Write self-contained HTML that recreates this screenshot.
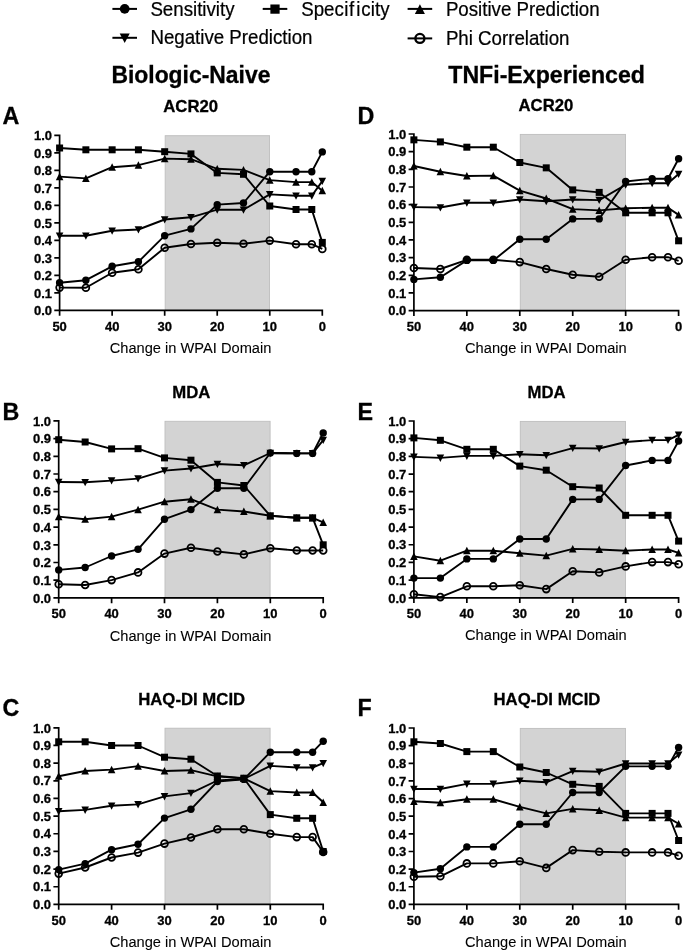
<!DOCTYPE html>
<html lang="en"><head><meta charset="utf-8"><title>Figure</title>
<style>html,body{margin:0;padding:0;background:#fff}svg{display:block}text{font-family:"Liberation Sans",Arial,Helvetica,sans-serif;fill:#000;stroke:#000;stroke-width:0.22px}.b{font-weight:bold;stroke:#000;stroke-width:0.3px}</style></head><body>
<svg width="685" height="952" viewBox="0 0 685 952">
<rect width="685" height="952" fill="#fff"/>
<defs><filter id="soft" filterUnits="userSpaceOnUse" x="0" y="0" width="685" height="952"><feGaussianBlur stdDeviation="0.38"/></filter></defs>
<g filter="url(#soft)">
<g><line x1="112.4" y1="8.9" x2="137" y2="8.9" stroke="#000" stroke-width="2"/><circle cx="124.7" cy="8.9" r="4.88"/><text transform="translate(150.4 15.5) scale(1 1.04)" font-size="18.7">Sensitivity</text></g>
<g><line x1="262.7" y1="8.9" x2="287.3" y2="8.9" stroke="#000" stroke-width="2"/><rect x="270.38" y="4.48" width="9.24" height="9.24"/><text dx="0 0 0 0 0.4 0.6 2.2 0.7 0.3" transform="translate(301.2 15.5) scale(1 1.04)" font-size="18.7">Specificity</text></g>
<g><line x1="407.6" y1="8.9" x2="432.2" y2="8.9" stroke="#000" stroke-width="2"/><path d="M419.9 4.15L424.92 14.05L414.88 14.05Z"/><text transform="translate(445.9 15.5) scale(1 1.04)" font-size="18.7">Positive Prediction</text></g>
<g><line x1="112.4" y1="37.8" x2="137" y2="37.8" stroke="#000" stroke-width="2"/><path d="M124.7 43.08L129.72 33.44L119.68 33.44Z"/><text transform="translate(150.4 44) scale(1 1.04)" font-size="18.7">Negative Prediction</text></g>
<g><line x1="407.6" y1="38.4" x2="432.2" y2="38.4" stroke="#000" stroke-width="2"/><circle cx="419.9" cy="38.4" r="4.49" fill="none" stroke="#000" stroke-width="2.38"/><text transform="translate(445.9 44.8) scale(1 1.04)" font-size="18.7">Phi Correlation</text></g>
<text transform="translate(190.9 82.9) scale(1 1.03)" font-size="22.9" text-anchor="middle" class="b">Biologic-Naive</text>
<text transform="translate(546.6 82.9) scale(1 1.03)" font-size="23.15" text-anchor="middle" class="b">TNFi-Experienced</text>
<g>
<rect x="165.18" y="135.7" width="104.38" height="174.7" fill="#d3d3d3" stroke="#bebebe" stroke-width="0.9"/>
<text transform="translate(2.4 124.25) scale(1 1)" font-size="23.3" class="b">A</text>
<text transform="translate(190.65 112.1) scale(1 1.03)" font-size="16.75" text-anchor="middle" class="b">ACR20</text>
<path d="M59.6 134.45V315.7M54.3 310.4H323.15M54.3 292.89H59.6M54.3 275.38H59.6M54.3 257.87H59.6M54.3 240.36H59.6M54.3 222.85H59.6M54.3 205.34H59.6M54.3 187.83H59.6M54.3 170.32H59.6M54.3 152.81H59.6M54.3 135.3H59.6M112.14 310.4V315.7M164.68 310.4V315.7M217.22 310.4V315.7M269.76 310.4V315.7M322.3 310.4V315.7" fill="none" stroke="#000" stroke-width="1.7"/>
<text transform="translate(52 315.1) scale(1 1.03)" font-size="13" text-anchor="end" class="b">0.0</text>
<text transform="translate(52 297.59) scale(1 1.03)" font-size="13" text-anchor="end" class="b">0.1</text>
<text transform="translate(52 280.08) scale(1 1.03)" font-size="13" text-anchor="end" class="b">0.2</text>
<text transform="translate(52 262.57) scale(1 1.03)" font-size="13" text-anchor="end" class="b">0.3</text>
<text transform="translate(52 245.06) scale(1 1.03)" font-size="13" text-anchor="end" class="b">0.4</text>
<text transform="translate(52 227.55) scale(1 1.03)" font-size="13" text-anchor="end" class="b">0.5</text>
<text transform="translate(52 210.04) scale(1 1.03)" font-size="13" text-anchor="end" class="b">0.6</text>
<text transform="translate(52 192.53) scale(1 1.03)" font-size="13" text-anchor="end" class="b">0.7</text>
<text transform="translate(52 175.02) scale(1 1.03)" font-size="13" text-anchor="end" class="b">0.8</text>
<text transform="translate(52 157.51) scale(1 1.03)" font-size="13" text-anchor="end" class="b">0.9</text>
<text transform="translate(52 140) scale(1 1.03)" font-size="13" text-anchor="end" class="b">1.0</text>
<text transform="translate(59.6 330.5) scale(1 1.03)" font-size="13" text-anchor="middle" class="b">50</text>
<text transform="translate(112.14 330.5) scale(1 1.03)" font-size="13" text-anchor="middle" class="b">40</text>
<text transform="translate(164.68 330.5) scale(1 1.03)" font-size="13" text-anchor="middle" class="b">30</text>
<text transform="translate(217.22 330.5) scale(1 1.03)" font-size="13" text-anchor="middle" class="b">20</text>
<text transform="translate(269.76 330.5) scale(1 1.03)" font-size="13" text-anchor="middle" class="b">10</text>
<text transform="translate(322.3 330.5) scale(1 1.03)" font-size="13" text-anchor="middle" class="b">0</text>
<text style="stroke-width:0.08px" transform="translate(190.55 353) scale(1 1)" font-size="14.65" text-anchor="middle">Change in WPAI Domain</text>
<polyline points="59.6,282.7 85.87,280.2 112.14,266.3 138.41,261.8 164.68,235.7 190.95,228.9 217.22,204.6 243.49,203 269.76,171.7 296.03,171.7 311.79,171.7 322.3,151.9" fill="none" stroke="#000" stroke-width="1.9" stroke-linejoin="round"/>
<circle cx="59.6" cy="282.7" r="3.7"/><circle cx="85.87" cy="280.2" r="3.7"/><circle cx="112.14" cy="266.3" r="3.7"/><circle cx="138.41" cy="261.8" r="3.7"/><circle cx="164.68" cy="235.7" r="3.7"/><circle cx="190.95" cy="228.9" r="3.7"/><circle cx="217.22" cy="204.6" r="3.7"/><circle cx="243.49" cy="203" r="3.7"/><circle cx="269.76" cy="171.7" r="3.7"/><circle cx="296.03" cy="171.7" r="3.7"/><circle cx="311.79" cy="171.7" r="3.7"/><circle cx="322.3" cy="151.9" r="3.7"/>
<polyline points="59.6,148 85.87,149.8 112.14,149.8 138.41,149.8 164.68,151.7 190.95,153.9 217.22,172.9 243.49,174.3 269.76,206 296.03,209.5 311.79,209.5 322.3,242.4" fill="none" stroke="#000" stroke-width="1.9" stroke-linejoin="round"/>
<rect x="56.1" y="144.5" width="7" height="7"/><rect x="82.37" y="146.3" width="7" height="7"/><rect x="108.64" y="146.3" width="7" height="7"/><rect x="134.91" y="146.3" width="7" height="7"/><rect x="161.18" y="148.2" width="7" height="7"/><rect x="187.45" y="150.4" width="7" height="7"/><rect x="213.72" y="169.4" width="7" height="7"/><rect x="239.99" y="170.8" width="7" height="7"/><rect x="266.26" y="202.5" width="7" height="7"/><rect x="292.53" y="206" width="7" height="7"/><rect x="308.29" y="206" width="7" height="7"/><rect x="318.8" y="238.9" width="7" height="7"/>
<polyline points="59.6,176.6 85.87,178.4 112.14,167.2 138.41,165.2 164.68,158.6 190.95,159.2 217.22,168.8 243.49,169.9 269.76,180.1 296.03,182.1 311.79,182.1 322.3,190.7" fill="none" stroke="#000" stroke-width="1.9" stroke-linejoin="round"/>
<path d="M59.6 172.7L63.4 180.2L55.8 180.2Z"/><path d="M85.87 174.5L89.67 182L82.07 182Z"/><path d="M112.14 163.3L115.94 170.8L108.34 170.8Z"/><path d="M138.41 161.3L142.21 168.8L134.61 168.8Z"/><path d="M164.68 154.7L168.48 162.2L160.88 162.2Z"/><path d="M190.95 155.3L194.75 162.8L187.15 162.8Z"/><path d="M217.22 164.9L221.02 172.4L213.42 172.4Z"/><path d="M243.49 166L247.29 173.5L239.69 173.5Z"/><path d="M269.76 176.2L273.56 183.7L265.96 183.7Z"/><path d="M296.03 178.2L299.83 185.7L292.23 185.7Z"/><path d="M311.79 178.2L315.59 185.7L307.99 185.7Z"/><path d="M322.3 186.8L326.1 194.3L318.5 194.3Z"/>
<polyline points="59.6,235.7 85.87,235.7 112.14,230.8 138.41,229.5 164.68,219.5 190.95,217.3 217.22,209.7 243.49,209.7 269.76,194.4 296.03,195.8 311.79,195.8 322.3,181.1" fill="none" stroke="#000" stroke-width="1.9" stroke-linejoin="round"/>
<path d="M59.6 239.7L63.4 232.4L55.8 232.4Z"/><path d="M85.87 239.7L89.67 232.4L82.07 232.4Z"/><path d="M112.14 234.8L115.94 227.5L108.34 227.5Z"/><path d="M138.41 233.5L142.21 226.2L134.61 226.2Z"/><path d="M164.68 223.5L168.48 216.2L160.88 216.2Z"/><path d="M190.95 221.3L194.75 214L187.15 214Z"/><path d="M217.22 213.7L221.02 206.4L213.42 206.4Z"/><path d="M243.49 213.7L247.29 206.4L239.69 206.4Z"/><path d="M269.76 198.4L273.56 191.1L265.96 191.1Z"/><path d="M296.03 199.8L299.83 192.5L292.23 192.5Z"/><path d="M311.79 199.8L315.59 192.5L307.99 192.5Z"/><path d="M322.3 185.1L326.1 177.8L318.5 177.8Z"/>
<polyline points="59.6,287.6 85.87,287.8 112.14,272.7 138.41,269.2 164.68,247.7 190.95,244 217.22,242.8 243.49,243.8 269.76,240.6 296.03,244.2 311.79,244.2 322.3,248.9" fill="none" stroke="#000" stroke-width="1.9" stroke-linejoin="round"/>
<circle cx="59.6" cy="287.6" r="3.4" fill="none" stroke="#000" stroke-width="1.8"/><circle cx="85.87" cy="287.8" r="3.4" fill="none" stroke="#000" stroke-width="1.8"/><circle cx="112.14" cy="272.7" r="3.4" fill="none" stroke="#000" stroke-width="1.8"/><circle cx="138.41" cy="269.2" r="3.4" fill="none" stroke="#000" stroke-width="1.8"/><circle cx="164.68" cy="247.7" r="3.4" fill="none" stroke="#000" stroke-width="1.8"/><circle cx="190.95" cy="244" r="3.4" fill="none" stroke="#000" stroke-width="1.8"/><circle cx="217.22" cy="242.8" r="3.4" fill="none" stroke="#000" stroke-width="1.8"/><circle cx="243.49" cy="243.8" r="3.4" fill="none" stroke="#000" stroke-width="1.8"/><circle cx="269.76" cy="240.6" r="3.4" fill="none" stroke="#000" stroke-width="1.8"/><circle cx="296.03" cy="244.2" r="3.4" fill="none" stroke="#000" stroke-width="1.8"/><circle cx="311.79" cy="244.2" r="3.4" fill="none" stroke="#000" stroke-width="1.8"/><circle cx="322.3" cy="248.9" r="3.4" fill="none" stroke="#000" stroke-width="1.8"/>
</g>
<g>
<rect x="165" y="421.3" width="105.1" height="176.6" fill="#d3d3d3" stroke="#bebebe" stroke-width="0.9"/>
<text transform="translate(2.4 420.05) scale(1 1)" font-size="23.3" class="b">B</text>
<text transform="translate(191.35 397.7) scale(1 1.03)" font-size="16.75" text-anchor="middle" class="b">MDA</text>
<path d="M58.7 420.05V603.2M53.4 597.9H324.05M53.4 580.2H58.7M53.4 562.5H58.7M53.4 544.8H58.7M53.4 527.1H58.7M53.4 509.4H58.7M53.4 491.7H58.7M53.4 474H58.7M53.4 456.3H58.7M53.4 438.6H58.7M53.4 420.9H58.7M111.6 597.9V603.2M164.5 597.9V603.2M217.4 597.9V603.2M270.3 597.9V603.2M323.2 597.9V603.2" fill="none" stroke="#000" stroke-width="1.7"/>
<text transform="translate(51.1 602.6) scale(1 1.03)" font-size="13" text-anchor="end" class="b">0.0</text>
<text transform="translate(51.1 584.9) scale(1 1.03)" font-size="13" text-anchor="end" class="b">0.1</text>
<text transform="translate(51.1 567.2) scale(1 1.03)" font-size="13" text-anchor="end" class="b">0.2</text>
<text transform="translate(51.1 549.5) scale(1 1.03)" font-size="13" text-anchor="end" class="b">0.3</text>
<text transform="translate(51.1 531.8) scale(1 1.03)" font-size="13" text-anchor="end" class="b">0.4</text>
<text transform="translate(51.1 514.1) scale(1 1.03)" font-size="13" text-anchor="end" class="b">0.5</text>
<text transform="translate(51.1 496.4) scale(1 1.03)" font-size="13" text-anchor="end" class="b">0.6</text>
<text transform="translate(51.1 478.7) scale(1 1.03)" font-size="13" text-anchor="end" class="b">0.7</text>
<text transform="translate(51.1 461) scale(1 1.03)" font-size="13" text-anchor="end" class="b">0.8</text>
<text transform="translate(51.1 443.3) scale(1 1.03)" font-size="13" text-anchor="end" class="b">0.9</text>
<text transform="translate(51.1 425.6) scale(1 1.03)" font-size="13" text-anchor="end" class="b">1.0</text>
<text transform="translate(58.7 618) scale(1 1.03)" font-size="13" text-anchor="middle" class="b">50</text>
<text transform="translate(111.6 618) scale(1 1.03)" font-size="13" text-anchor="middle" class="b">40</text>
<text transform="translate(164.5 618) scale(1 1.03)" font-size="13" text-anchor="middle" class="b">30</text>
<text transform="translate(217.4 618) scale(1 1.03)" font-size="13" text-anchor="middle" class="b">20</text>
<text transform="translate(270.3 618) scale(1 1.03)" font-size="13" text-anchor="middle" class="b">10</text>
<text transform="translate(323.2 618) scale(1 1.03)" font-size="13" text-anchor="middle" class="b">0</text>
<text style="stroke-width:0.08px" transform="translate(190.55 640.5) scale(1 1)" font-size="14.65" text-anchor="middle">Change in WPAI Domain</text>
<polyline points="58.7,569.9 85.15,567.5 111.6,556 138.05,549.3 164.5,519.2 190.95,509.6 217.4,488.2 243.85,488.2 270.3,453 296.75,453.4 312.62,453.4 323.2,433" fill="none" stroke="#000" stroke-width="1.9" stroke-linejoin="round"/>
<circle cx="58.7" cy="569.9" r="3.7"/><circle cx="85.15" cy="567.5" r="3.7"/><circle cx="111.6" cy="556" r="3.7"/><circle cx="138.05" cy="549.3" r="3.7"/><circle cx="164.5" cy="519.2" r="3.7"/><circle cx="190.95" cy="509.6" r="3.7"/><circle cx="217.4" cy="488.2" r="3.7"/><circle cx="243.85" cy="488.2" r="3.7"/><circle cx="270.3" cy="453" r="3.7"/><circle cx="296.75" cy="453.4" r="3.7"/><circle cx="312.62" cy="453.4" r="3.7"/><circle cx="323.2" cy="433" r="3.7"/>
<polyline points="58.7,439.7 85.15,442 111.6,448.9 138.05,448.7 164.5,457.9 190.95,460.2 217.4,482.4 243.85,485.5 270.3,515.8 296.75,517.8 312.62,517.8 323.2,544.8" fill="none" stroke="#000" stroke-width="1.9" stroke-linejoin="round"/>
<rect x="55.2" y="436.2" width="7" height="7"/><rect x="81.65" y="438.5" width="7" height="7"/><rect x="108.1" y="445.4" width="7" height="7"/><rect x="134.55" y="445.2" width="7" height="7"/><rect x="161" y="454.4" width="7" height="7"/><rect x="187.45" y="456.7" width="7" height="7"/><rect x="213.9" y="478.9" width="7" height="7"/><rect x="240.35" y="482" width="7" height="7"/><rect x="266.8" y="512.3" width="7" height="7"/><rect x="293.25" y="514.3" width="7" height="7"/><rect x="309.12" y="514.3" width="7" height="7"/><rect x="319.7" y="541.3" width="7" height="7"/>
<polyline points="58.7,516.6 85.15,519.2 111.6,516.6 138.05,509.6 164.5,501.7 190.95,499.2 217.4,509.6 243.85,511.5 270.3,515.8 296.75,517.8 312.62,517.8 323.2,522.3" fill="none" stroke="#000" stroke-width="1.9" stroke-linejoin="round"/>
<path d="M58.7 512.7L62.5 520.2L54.9 520.2Z"/><path d="M85.15 515.3L88.95 522.8L81.35 522.8Z"/><path d="M111.6 512.7L115.4 520.2L107.8 520.2Z"/><path d="M138.05 505.7L141.85 513.2L134.25 513.2Z"/><path d="M164.5 497.8L168.3 505.3L160.7 505.3Z"/><path d="M190.95 495.3L194.75 502.8L187.15 502.8Z"/><path d="M217.4 505.7L221.2 513.2L213.6 513.2Z"/><path d="M243.85 507.6L247.65 515.1L240.05 515.1Z"/><path d="M270.3 511.9L274.1 519.4L266.5 519.4Z"/><path d="M296.75 513.9L300.55 521.4L292.95 521.4Z"/><path d="M312.62 513.9L316.42 521.4L308.82 521.4Z"/><path d="M323.2 518.4L327 525.9L319.4 525.9Z"/>
<polyline points="58.7,482 85.15,482.2 111.6,480.6 138.05,478.6 164.5,470.6 190.95,468.5 217.4,464 243.85,465.3 270.3,453 296.75,453.4 312.62,453.4 323.2,440.1" fill="none" stroke="#000" stroke-width="1.9" stroke-linejoin="round"/>
<path d="M58.7 486L62.5 478.7L54.9 478.7Z"/><path d="M85.15 486.2L88.95 478.9L81.35 478.9Z"/><path d="M111.6 484.6L115.4 477.3L107.8 477.3Z"/><path d="M138.05 482.6L141.85 475.3L134.25 475.3Z"/><path d="M164.5 474.6L168.3 467.3L160.7 467.3Z"/><path d="M190.95 472.5L194.75 465.2L187.15 465.2Z"/><path d="M217.4 468L221.2 460.7L213.6 460.7Z"/><path d="M243.85 469.3L247.65 462L240.05 462Z"/><path d="M270.3 457L274.1 449.7L266.5 449.7Z"/><path d="M296.75 457.4L300.55 450.1L292.95 450.1Z"/><path d="M312.62 457.4L316.42 450.1L308.82 450.1Z"/><path d="M323.2 444.1L327 436.8L319.4 436.8Z"/>
<polyline points="58.7,584.2 85.15,585 111.6,580.1 138.05,572.4 164.5,553.6 190.95,547.8 217.4,551.5 243.85,554.4 270.3,548.3 296.75,550.5 312.62,550.5 323.2,550.5" fill="none" stroke="#000" stroke-width="1.9" stroke-linejoin="round"/>
<circle cx="58.7" cy="584.2" r="3.4" fill="none" stroke="#000" stroke-width="1.8"/><circle cx="85.15" cy="585" r="3.4" fill="none" stroke="#000" stroke-width="1.8"/><circle cx="111.6" cy="580.1" r="3.4" fill="none" stroke="#000" stroke-width="1.8"/><circle cx="138.05" cy="572.4" r="3.4" fill="none" stroke="#000" stroke-width="1.8"/><circle cx="164.5" cy="553.6" r="3.4" fill="none" stroke="#000" stroke-width="1.8"/><circle cx="190.95" cy="547.8" r="3.4" fill="none" stroke="#000" stroke-width="1.8"/><circle cx="217.4" cy="551.5" r="3.4" fill="none" stroke="#000" stroke-width="1.8"/><circle cx="243.85" cy="554.4" r="3.4" fill="none" stroke="#000" stroke-width="1.8"/><circle cx="270.3" cy="548.3" r="3.4" fill="none" stroke="#000" stroke-width="1.8"/><circle cx="296.75" cy="550.5" r="3.4" fill="none" stroke="#000" stroke-width="1.8"/><circle cx="312.62" cy="550.5" r="3.4" fill="none" stroke="#000" stroke-width="1.8"/><circle cx="323.2" cy="550.5" r="3.4" fill="none" stroke="#000" stroke-width="1.8"/>
</g>
<g>
<rect x="165" y="728.2" width="105.1" height="176.2" fill="#d3d3d3" stroke="#bebebe" stroke-width="0.9"/>
<text transform="translate(2.4 716.15) scale(1 1)" font-size="23.3" class="b">C</text>
<text transform="translate(191.65 704.6) scale(1 1.03)" font-size="16.75" text-anchor="middle" class="b">HAQ-DI MCID</text>
<path d="M58.7 726.95V909.7M53.4 904.4H324.05M53.4 886.74H58.7M53.4 869.08H58.7M53.4 851.42H58.7M53.4 833.76H58.7M53.4 816.1H58.7M53.4 798.44H58.7M53.4 780.78H58.7M53.4 763.12H58.7M53.4 745.46H58.7M53.4 727.8H58.7M111.6 904.4V909.7M164.5 904.4V909.7M217.4 904.4V909.7M270.3 904.4V909.7M323.2 904.4V909.7" fill="none" stroke="#000" stroke-width="1.7"/>
<text transform="translate(51.1 909.1) scale(1 1.03)" font-size="13" text-anchor="end" class="b">0.0</text>
<text transform="translate(51.1 891.44) scale(1 1.03)" font-size="13" text-anchor="end" class="b">0.1</text>
<text transform="translate(51.1 873.78) scale(1 1.03)" font-size="13" text-anchor="end" class="b">0.2</text>
<text transform="translate(51.1 856.12) scale(1 1.03)" font-size="13" text-anchor="end" class="b">0.3</text>
<text transform="translate(51.1 838.46) scale(1 1.03)" font-size="13" text-anchor="end" class="b">0.4</text>
<text transform="translate(51.1 820.8) scale(1 1.03)" font-size="13" text-anchor="end" class="b">0.5</text>
<text transform="translate(51.1 803.14) scale(1 1.03)" font-size="13" text-anchor="end" class="b">0.6</text>
<text transform="translate(51.1 785.48) scale(1 1.03)" font-size="13" text-anchor="end" class="b">0.7</text>
<text transform="translate(51.1 767.82) scale(1 1.03)" font-size="13" text-anchor="end" class="b">0.8</text>
<text transform="translate(51.1 750.16) scale(1 1.03)" font-size="13" text-anchor="end" class="b">0.9</text>
<text transform="translate(51.1 732.5) scale(1 1.03)" font-size="13" text-anchor="end" class="b">1.0</text>
<text transform="translate(58.7 924.5) scale(1 1.03)" font-size="13" text-anchor="middle" class="b">50</text>
<text transform="translate(111.6 924.5) scale(1 1.03)" font-size="13" text-anchor="middle" class="b">40</text>
<text transform="translate(164.5 924.5) scale(1 1.03)" font-size="13" text-anchor="middle" class="b">30</text>
<text transform="translate(217.4 924.5) scale(1 1.03)" font-size="13" text-anchor="middle" class="b">20</text>
<text transform="translate(270.3 924.5) scale(1 1.03)" font-size="13" text-anchor="middle" class="b">10</text>
<text transform="translate(323.2 924.5) scale(1 1.03)" font-size="13" text-anchor="middle" class="b">0</text>
<text style="stroke-width:0.08px" transform="translate(190.55 947) scale(1 1)" font-size="14.65" text-anchor="middle">Change in WPAI Domain</text>
<polyline points="58.7,869.6 85.15,863.6 111.6,849.7 138.05,844.2 164.5,818.1 190.95,809.3 217.4,781.5 243.85,779.4 270.3,752.2 296.75,752.2 312.62,752.2 323.2,741.2" fill="none" stroke="#000" stroke-width="1.9" stroke-linejoin="round"/>
<circle cx="58.7" cy="869.6" r="3.7"/><circle cx="85.15" cy="863.6" r="3.7"/><circle cx="111.6" cy="849.7" r="3.7"/><circle cx="138.05" cy="844.2" r="3.7"/><circle cx="164.5" cy="818.1" r="3.7"/><circle cx="190.95" cy="809.3" r="3.7"/><circle cx="217.4" cy="781.5" r="3.7"/><circle cx="243.85" cy="779.4" r="3.7"/><circle cx="270.3" cy="752.2" r="3.7"/><circle cx="296.75" cy="752.2" r="3.7"/><circle cx="312.62" cy="752.2" r="3.7"/><circle cx="323.2" cy="741.2" r="3.7"/>
<polyline points="58.7,741.8 85.15,741.8 111.6,745.5 138.05,745.5 164.5,757.2 190.95,759.2 217.4,776 243.85,778.2 270.3,814.6 296.75,818.3 312.62,818.3 323.2,851.5" fill="none" stroke="#000" stroke-width="1.9" stroke-linejoin="round"/>
<rect x="55.2" y="738.3" width="7" height="7"/><rect x="81.65" y="738.3" width="7" height="7"/><rect x="108.1" y="742" width="7" height="7"/><rect x="134.55" y="742" width="7" height="7"/><rect x="161" y="753.7" width="7" height="7"/><rect x="187.45" y="755.7" width="7" height="7"/><rect x="213.9" y="772.5" width="7" height="7"/><rect x="240.35" y="774.7" width="7" height="7"/><rect x="266.8" y="811.1" width="7" height="7"/><rect x="293.25" y="814.8" width="7" height="7"/><rect x="309.12" y="814.8" width="7" height="7"/><rect x="319.7" y="848" width="7" height="7"/>
<polyline points="58.7,776.2 85.15,771 111.6,769.6 138.05,766.1 164.5,771 190.95,770.2 217.4,776.4 243.85,778.4 270.3,791.1 296.75,792.5 312.62,792.5 323.2,802.3" fill="none" stroke="#000" stroke-width="1.9" stroke-linejoin="round"/>
<path d="M58.7 772.3L62.5 779.8L54.9 779.8Z"/><path d="M85.15 767.1L88.95 774.6L81.35 774.6Z"/><path d="M111.6 765.7L115.4 773.2L107.8 773.2Z"/><path d="M138.05 762.2L141.85 769.7L134.25 769.7Z"/><path d="M164.5 767.1L168.3 774.6L160.7 774.6Z"/><path d="M190.95 766.3L194.75 773.8L187.15 773.8Z"/><path d="M217.4 772.5L221.2 780L213.6 780Z"/><path d="M243.85 774.5L247.65 782L240.05 782Z"/><path d="M270.3 787.2L274.1 794.7L266.5 794.7Z"/><path d="M296.75 788.6L300.55 796.1L292.95 796.1Z"/><path d="M312.62 788.6L316.42 796.1L308.82 796.1Z"/><path d="M323.2 798.4L327 805.9L319.4 805.9Z"/>
<polyline points="58.7,811.3 85.15,809.9 111.6,805.8 138.05,804.4 164.5,796.4 190.95,793.1 217.4,780.5 243.85,779 270.3,765.9 296.75,767.5 312.62,767.5 323.2,763.2" fill="none" stroke="#000" stroke-width="1.9" stroke-linejoin="round"/>
<path d="M58.7 815.3L62.5 808L54.9 808Z"/><path d="M85.15 813.9L88.95 806.6L81.35 806.6Z"/><path d="M111.6 809.8L115.4 802.5L107.8 802.5Z"/><path d="M138.05 808.4L141.85 801.1L134.25 801.1Z"/><path d="M164.5 800.4L168.3 793.1L160.7 793.1Z"/><path d="M190.95 797.1L194.75 789.8L187.15 789.8Z"/><path d="M217.4 784.5L221.2 777.2L213.6 777.2Z"/><path d="M243.85 783L247.65 775.7L240.05 775.7Z"/><path d="M270.3 769.9L274.1 762.6L266.5 762.6Z"/><path d="M296.75 771.5L300.55 764.2L292.95 764.2Z"/><path d="M312.62 771.5L316.42 764.2L308.82 764.2Z"/><path d="M323.2 767.2L327 759.9L319.4 759.9Z"/>
<polyline points="58.7,873.6 85.15,867.5 111.6,857.5 138.05,852.6 164.5,843.6 190.95,837.5 217.4,829.3 243.85,829.3 270.3,833.8 296.75,837.1 312.62,837.1 323.2,852" fill="none" stroke="#000" stroke-width="1.9" stroke-linejoin="round"/>
<circle cx="58.7" cy="873.6" r="3.4" fill="none" stroke="#000" stroke-width="1.8"/><circle cx="85.15" cy="867.5" r="3.4" fill="none" stroke="#000" stroke-width="1.8"/><circle cx="111.6" cy="857.5" r="3.4" fill="none" stroke="#000" stroke-width="1.8"/><circle cx="138.05" cy="852.6" r="3.4" fill="none" stroke="#000" stroke-width="1.8"/><circle cx="164.5" cy="843.6" r="3.4" fill="none" stroke="#000" stroke-width="1.8"/><circle cx="190.95" cy="837.5" r="3.4" fill="none" stroke="#000" stroke-width="1.8"/><circle cx="217.4" cy="829.3" r="3.4" fill="none" stroke="#000" stroke-width="1.8"/><circle cx="243.85" cy="829.3" r="3.4" fill="none" stroke="#000" stroke-width="1.8"/><circle cx="270.3" cy="833.8" r="3.4" fill="none" stroke="#000" stroke-width="1.8"/><circle cx="296.75" cy="837.1" r="3.4" fill="none" stroke="#000" stroke-width="1.8"/><circle cx="312.62" cy="837.1" r="3.4" fill="none" stroke="#000" stroke-width="1.8"/><circle cx="323.2" cy="852" r="3.4" fill="none" stroke="#000" stroke-width="1.8"/>
</g>
<g>
<rect x="520.28" y="134.4" width="105.18" height="176.2" fill="#d3d3d3" stroke="#bebebe" stroke-width="0.9"/>
<text transform="translate(357.4 124.25) scale(1 1)" font-size="23.3" class="b">D</text>
<text transform="translate(545.95 110.8) scale(1 1.03)" font-size="16.75" text-anchor="middle" class="b">ACR20</text>
<path d="M413.9 133.15V315.9M408.6 310.6H679.45M408.6 292.94H413.9M408.6 275.28H413.9M408.6 257.62H413.9M408.6 239.96H413.9M408.6 222.3H413.9M408.6 204.64H413.9M408.6 186.98H413.9M408.6 169.32H413.9M408.6 151.66H413.9M408.6 134H413.9M466.84 310.6V315.9M519.78 310.6V315.9M572.72 310.6V315.9M625.66 310.6V315.9M678.6 310.6V315.9" fill="none" stroke="#000" stroke-width="1.7"/>
<text transform="translate(406.3 315.3) scale(1 1.03)" font-size="13" text-anchor="end" class="b">0.0</text>
<text transform="translate(406.3 297.64) scale(1 1.03)" font-size="13" text-anchor="end" class="b">0.1</text>
<text transform="translate(406.3 279.98) scale(1 1.03)" font-size="13" text-anchor="end" class="b">0.2</text>
<text transform="translate(406.3 262.32) scale(1 1.03)" font-size="13" text-anchor="end" class="b">0.3</text>
<text transform="translate(406.3 244.66) scale(1 1.03)" font-size="13" text-anchor="end" class="b">0.4</text>
<text transform="translate(406.3 227) scale(1 1.03)" font-size="13" text-anchor="end" class="b">0.5</text>
<text transform="translate(406.3 209.34) scale(1 1.03)" font-size="13" text-anchor="end" class="b">0.6</text>
<text transform="translate(406.3 191.68) scale(1 1.03)" font-size="13" text-anchor="end" class="b">0.7</text>
<text transform="translate(406.3 174.02) scale(1 1.03)" font-size="13" text-anchor="end" class="b">0.8</text>
<text transform="translate(406.3 156.36) scale(1 1.03)" font-size="13" text-anchor="end" class="b">0.9</text>
<text transform="translate(406.3 138.7) scale(1 1.03)" font-size="13" text-anchor="end" class="b">1.0</text>
<text transform="translate(413.9 330.7) scale(1 1.03)" font-size="13" text-anchor="middle" class="b">50</text>
<text transform="translate(466.84 330.7) scale(1 1.03)" font-size="13" text-anchor="middle" class="b">40</text>
<text transform="translate(519.78 330.7) scale(1 1.03)" font-size="13" text-anchor="middle" class="b">30</text>
<text transform="translate(572.72 330.7) scale(1 1.03)" font-size="13" text-anchor="middle" class="b">20</text>
<text transform="translate(625.66 330.7) scale(1 1.03)" font-size="13" text-anchor="middle" class="b">10</text>
<text transform="translate(678.6 330.7) scale(1 1.03)" font-size="13" text-anchor="middle" class="b">0</text>
<text style="stroke-width:0.08px" transform="translate(545.85 353.2) scale(1 1)" font-size="14.65" text-anchor="middle">Change in WPAI Domain</text>
<polyline points="413.9,279.4 440.37,277.2 466.84,260.4 493.31,260.4 519.78,239.2 546.25,239.2 572.72,218.9 599.19,218.9 625.66,181.5 652.13,178.7 668.01,178.7 678.6,158.7" fill="none" stroke="#000" stroke-width="1.9" stroke-linejoin="round"/>
<circle cx="413.9" cy="279.4" r="3.7"/><circle cx="440.37" cy="277.2" r="3.7"/><circle cx="466.84" cy="260.4" r="3.7"/><circle cx="493.31" cy="260.4" r="3.7"/><circle cx="519.78" cy="239.2" r="3.7"/><circle cx="546.25" cy="239.2" r="3.7"/><circle cx="572.72" cy="218.9" r="3.7"/><circle cx="599.19" cy="218.9" r="3.7"/><circle cx="625.66" cy="181.5" r="3.7"/><circle cx="652.13" cy="178.7" r="3.7"/><circle cx="668.01" cy="178.7" r="3.7"/><circle cx="678.6" cy="158.7" r="3.7"/>
<polyline points="413.9,139.85 440.37,141.9 466.84,147.2 493.31,147.2 519.78,162.5 546.25,167.85 572.72,189.9 599.19,192.4 625.66,212.8 652.13,212.8 668.01,212.8 678.6,240.8" fill="none" stroke="#000" stroke-width="1.9" stroke-linejoin="round"/>
<rect x="410.4" y="136.35" width="7" height="7"/><rect x="436.87" y="138.4" width="7" height="7"/><rect x="463.34" y="143.7" width="7" height="7"/><rect x="489.81" y="143.7" width="7" height="7"/><rect x="516.28" y="159" width="7" height="7"/><rect x="542.75" y="164.35" width="7" height="7"/><rect x="569.22" y="186.4" width="7" height="7"/><rect x="595.69" y="188.9" width="7" height="7"/><rect x="622.16" y="209.3" width="7" height="7"/><rect x="648.63" y="209.3" width="7" height="7"/><rect x="664.51" y="209.3" width="7" height="7"/><rect x="675.1" y="237.3" width="7" height="7"/>
<polyline points="413.9,166 440.37,171.7 466.84,176 493.31,175.6 519.78,190.7 546.25,198.5 572.72,209.1 599.19,210.4 625.66,208.3 652.13,207.7 668.01,207.7 678.6,214.9" fill="none" stroke="#000" stroke-width="1.9" stroke-linejoin="round"/>
<path d="M413.9 162.1L417.7 169.6L410.1 169.6Z"/><path d="M440.37 167.8L444.17 175.3L436.57 175.3Z"/><path d="M466.84 172.1L470.64 179.6L463.04 179.6Z"/><path d="M493.31 171.7L497.11 179.2L489.51 179.2Z"/><path d="M519.78 186.8L523.58 194.3L515.98 194.3Z"/><path d="M546.25 194.6L550.05 202.1L542.45 202.1Z"/><path d="M572.72 205.2L576.52 212.7L568.92 212.7Z"/><path d="M599.19 206.5L602.99 214L595.39 214Z"/><path d="M625.66 204.4L629.46 211.9L621.86 211.9Z"/><path d="M652.13 203.8L655.93 211.3L648.33 211.3Z"/><path d="M668.01 203.8L671.81 211.3L664.21 211.3Z"/><path d="M678.6 211L682.4 218.5L674.8 218.5Z"/>
<polyline points="413.9,207.1 440.37,207.5 466.84,202.8 493.31,202.8 519.78,199.5 546.25,201.2 572.72,199.5 599.19,200.1 625.66,184.8 652.13,183.2 668.01,183.2 678.6,174" fill="none" stroke="#000" stroke-width="1.9" stroke-linejoin="round"/>
<path d="M413.9 211.1L417.7 203.8L410.1 203.8Z"/><path d="M440.37 211.5L444.17 204.2L436.57 204.2Z"/><path d="M466.84 206.8L470.64 199.5L463.04 199.5Z"/><path d="M493.31 206.8L497.11 199.5L489.51 199.5Z"/><path d="M519.78 203.5L523.58 196.2L515.98 196.2Z"/><path d="M546.25 205.2L550.05 197.9L542.45 197.9Z"/><path d="M572.72 203.5L576.52 196.2L568.92 196.2Z"/><path d="M599.19 204.1L602.99 196.8L595.39 196.8Z"/><path d="M625.66 188.8L629.46 181.5L621.86 181.5Z"/><path d="M652.13 187.2L655.93 179.9L648.33 179.9Z"/><path d="M668.01 187.2L671.81 179.9L664.21 179.9Z"/><path d="M678.6 178L682.4 170.7L674.8 170.7Z"/>
<polyline points="413.9,268 440.37,269 466.84,259.8 493.31,259.8 519.78,262.1 546.25,269 572.72,274.7 599.19,276.8 625.66,259.8 652.13,257.2 668.01,257.2 678.6,260.8" fill="none" stroke="#000" stroke-width="1.9" stroke-linejoin="round"/>
<circle cx="413.9" cy="268" r="3.4" fill="none" stroke="#000" stroke-width="1.8"/><circle cx="440.37" cy="269" r="3.4" fill="none" stroke="#000" stroke-width="1.8"/><circle cx="466.84" cy="259.8" r="3.4" fill="none" stroke="#000" stroke-width="1.8"/><circle cx="493.31" cy="259.8" r="3.4" fill="none" stroke="#000" stroke-width="1.8"/><circle cx="519.78" cy="262.1" r="3.4" fill="none" stroke="#000" stroke-width="1.8"/><circle cx="546.25" cy="269" r="3.4" fill="none" stroke="#000" stroke-width="1.8"/><circle cx="572.72" cy="274.7" r="3.4" fill="none" stroke="#000" stroke-width="1.8"/><circle cx="599.19" cy="276.8" r="3.4" fill="none" stroke="#000" stroke-width="1.8"/><circle cx="625.66" cy="259.8" r="3.4" fill="none" stroke="#000" stroke-width="1.8"/><circle cx="652.13" cy="257.2" r="3.4" fill="none" stroke="#000" stroke-width="1.8"/><circle cx="668.01" cy="257.2" r="3.4" fill="none" stroke="#000" stroke-width="1.8"/><circle cx="678.6" cy="260.8" r="3.4" fill="none" stroke="#000" stroke-width="1.8"/>
</g>
<g>
<rect x="520.28" y="421.4" width="105.18" height="176.4" fill="#d3d3d3" stroke="#bebebe" stroke-width="0.9"/>
<text transform="translate(357.4 420.05) scale(1 1)" font-size="23.3" class="b">E</text>
<text transform="translate(546.65 397.8) scale(1 1.03)" font-size="16.75" text-anchor="middle" class="b">MDA</text>
<path d="M413.9 420.15V603.1M408.6 597.8H679.45M408.6 580.12H413.9M408.6 562.44H413.9M408.6 544.76H413.9M408.6 527.08H413.9M408.6 509.4H413.9M408.6 491.72H413.9M408.6 474.04H413.9M408.6 456.36H413.9M408.6 438.68H413.9M408.6 421H413.9M466.84 597.8V603.1M519.78 597.8V603.1M572.72 597.8V603.1M625.66 597.8V603.1M678.6 597.8V603.1" fill="none" stroke="#000" stroke-width="1.7"/>
<text transform="translate(406.3 602.5) scale(1 1.03)" font-size="13" text-anchor="end" class="b">0.0</text>
<text transform="translate(406.3 584.82) scale(1 1.03)" font-size="13" text-anchor="end" class="b">0.1</text>
<text transform="translate(406.3 567.14) scale(1 1.03)" font-size="13" text-anchor="end" class="b">0.2</text>
<text transform="translate(406.3 549.46) scale(1 1.03)" font-size="13" text-anchor="end" class="b">0.3</text>
<text transform="translate(406.3 531.78) scale(1 1.03)" font-size="13" text-anchor="end" class="b">0.4</text>
<text transform="translate(406.3 514.1) scale(1 1.03)" font-size="13" text-anchor="end" class="b">0.5</text>
<text transform="translate(406.3 496.42) scale(1 1.03)" font-size="13" text-anchor="end" class="b">0.6</text>
<text transform="translate(406.3 478.74) scale(1 1.03)" font-size="13" text-anchor="end" class="b">0.7</text>
<text transform="translate(406.3 461.06) scale(1 1.03)" font-size="13" text-anchor="end" class="b">0.8</text>
<text transform="translate(406.3 443.38) scale(1 1.03)" font-size="13" text-anchor="end" class="b">0.9</text>
<text transform="translate(406.3 425.7) scale(1 1.03)" font-size="13" text-anchor="end" class="b">1.0</text>
<text transform="translate(413.9 617.9) scale(1 1.03)" font-size="13" text-anchor="middle" class="b">50</text>
<text transform="translate(466.84 617.9) scale(1 1.03)" font-size="13" text-anchor="middle" class="b">40</text>
<text transform="translate(519.78 617.9) scale(1 1.03)" font-size="13" text-anchor="middle" class="b">30</text>
<text transform="translate(572.72 617.9) scale(1 1.03)" font-size="13" text-anchor="middle" class="b">20</text>
<text transform="translate(625.66 617.9) scale(1 1.03)" font-size="13" text-anchor="middle" class="b">10</text>
<text transform="translate(678.6 617.9) scale(1 1.03)" font-size="13" text-anchor="middle" class="b">0</text>
<text style="stroke-width:0.08px" transform="translate(545.85 640.4) scale(1 1)" font-size="14.65" text-anchor="middle">Change in WPAI Domain</text>
<polyline points="413.9,578.1 440.37,578.1 466.84,558.9 493.31,558.9 519.78,539.05 546.25,539.05 572.72,499.4 599.19,499.4 625.66,465.5 652.13,460.4 668.01,460.4 678.6,441" fill="none" stroke="#000" stroke-width="1.9" stroke-linejoin="round"/>
<circle cx="413.9" cy="578.1" r="3.7"/><circle cx="440.37" cy="578.1" r="3.7"/><circle cx="466.84" cy="558.9" r="3.7"/><circle cx="493.31" cy="558.9" r="3.7"/><circle cx="519.78" cy="539.05" r="3.7"/><circle cx="546.25" cy="539.05" r="3.7"/><circle cx="572.72" cy="499.4" r="3.7"/><circle cx="599.19" cy="499.4" r="3.7"/><circle cx="625.66" cy="465.5" r="3.7"/><circle cx="652.13" cy="460.4" r="3.7"/><circle cx="668.01" cy="460.4" r="3.7"/><circle cx="678.6" cy="441" r="3.7"/>
<polyline points="413.9,437.9 440.37,440.3 466.84,449.3 493.31,449.3 519.78,466.1 546.25,470.2 572.72,486.7 599.19,488 625.66,515.3 652.13,515.3 668.01,515.3 678.6,541.1" fill="none" stroke="#000" stroke-width="1.9" stroke-linejoin="round"/>
<rect x="410.4" y="434.4" width="7" height="7"/><rect x="436.87" y="436.8" width="7" height="7"/><rect x="463.34" y="445.8" width="7" height="7"/><rect x="489.81" y="445.8" width="7" height="7"/><rect x="516.28" y="462.6" width="7" height="7"/><rect x="542.75" y="466.7" width="7" height="7"/><rect x="569.22" y="483.2" width="7" height="7"/><rect x="595.69" y="484.5" width="7" height="7"/><rect x="622.16" y="511.8" width="7" height="7"/><rect x="648.63" y="511.8" width="7" height="7"/><rect x="664.51" y="511.8" width="7" height="7"/><rect x="675.1" y="537.6" width="7" height="7"/>
<polyline points="413.9,556.4 440.37,560.7 466.84,550.7 493.31,550.7 519.78,553.2 546.25,555.6 572.72,548.9 599.19,549.5 625.66,550.7 652.13,549.5 668.01,549.5 678.6,552.95" fill="none" stroke="#000" stroke-width="1.9" stroke-linejoin="round"/>
<path d="M413.9 552.5L417.7 560L410.1 560Z"/><path d="M440.37 556.8L444.17 564.3L436.57 564.3Z"/><path d="M466.84 546.8L470.64 554.3L463.04 554.3Z"/><path d="M493.31 546.8L497.11 554.3L489.51 554.3Z"/><path d="M519.78 549.3L523.58 556.8L515.98 556.8Z"/><path d="M546.25 551.7L550.05 559.2L542.45 559.2Z"/><path d="M572.72 545L576.52 552.5L568.92 552.5Z"/><path d="M599.19 545.6L602.99 553.1L595.39 553.1Z"/><path d="M625.66 546.8L629.46 554.3L621.86 554.3Z"/><path d="M652.13 545.6L655.93 553.1L648.33 553.1Z"/><path d="M668.01 545.6L671.81 553.1L664.21 553.1Z"/><path d="M678.6 549.05L682.4 556.55L674.8 556.55Z"/>
<polyline points="413.9,456.9 440.37,457.9 466.84,455.9 493.31,455.9 519.78,454.2 546.25,455.3 572.72,448.1 599.19,448.5 625.66,442 652.13,440.1 668.01,440.1 678.6,434.8" fill="none" stroke="#000" stroke-width="1.9" stroke-linejoin="round"/>
<path d="M413.9 460.9L417.7 453.6L410.1 453.6Z"/><path d="M440.37 461.9L444.17 454.6L436.57 454.6Z"/><path d="M466.84 459.9L470.64 452.6L463.04 452.6Z"/><path d="M493.31 459.9L497.11 452.6L489.51 452.6Z"/><path d="M519.78 458.2L523.58 450.9L515.98 450.9Z"/><path d="M546.25 459.3L550.05 452L542.45 452Z"/><path d="M572.72 452.1L576.52 444.8L568.92 444.8Z"/><path d="M599.19 452.5L602.99 445.2L595.39 445.2Z"/><path d="M625.66 446L629.46 438.7L621.86 438.7Z"/><path d="M652.13 444.1L655.93 436.8L648.33 436.8Z"/><path d="M668.01 444.1L671.81 436.8L664.21 436.8Z"/><path d="M678.6 438.8L682.4 431.5L674.8 431.5Z"/>
<polyline points="413.9,594.2 440.37,597.1 466.84,586.3 493.31,586.3 519.78,585.2 546.25,589.1 572.72,571.3 599.19,572.4 625.66,566.4 652.13,562.1 668.01,562.1 678.6,564.2" fill="none" stroke="#000" stroke-width="1.9" stroke-linejoin="round"/>
<circle cx="413.9" cy="594.2" r="3.4" fill="none" stroke="#000" stroke-width="1.8"/><circle cx="440.37" cy="597.1" r="3.4" fill="none" stroke="#000" stroke-width="1.8"/><circle cx="466.84" cy="586.3" r="3.4" fill="none" stroke="#000" stroke-width="1.8"/><circle cx="493.31" cy="586.3" r="3.4" fill="none" stroke="#000" stroke-width="1.8"/><circle cx="519.78" cy="585.2" r="3.4" fill="none" stroke="#000" stroke-width="1.8"/><circle cx="546.25" cy="589.1" r="3.4" fill="none" stroke="#000" stroke-width="1.8"/><circle cx="572.72" cy="571.3" r="3.4" fill="none" stroke="#000" stroke-width="1.8"/><circle cx="599.19" cy="572.4" r="3.4" fill="none" stroke="#000" stroke-width="1.8"/><circle cx="625.66" cy="566.4" r="3.4" fill="none" stroke="#000" stroke-width="1.8"/><circle cx="652.13" cy="562.1" r="3.4" fill="none" stroke="#000" stroke-width="1.8"/><circle cx="668.01" cy="562.1" r="3.4" fill="none" stroke="#000" stroke-width="1.8"/><circle cx="678.6" cy="564.2" r="3.4" fill="none" stroke="#000" stroke-width="1.8"/>
</g>
<g>
<rect x="520.28" y="728.4" width="105.18" height="176" fill="#d3d3d3" stroke="#bebebe" stroke-width="0.9"/>
<text transform="translate(357.4 716.15) scale(1 1)" font-size="23.3" class="b">F</text>
<text transform="translate(546.95 704.8) scale(1 1.03)" font-size="16.75" text-anchor="middle" class="b">HAQ-DI MCID</text>
<path d="M413.9 727.15V909.7M408.6 904.4H679.45M408.6 886.76H413.9M408.6 869.12H413.9M408.6 851.48H413.9M408.6 833.84H413.9M408.6 816.2H413.9M408.6 798.56H413.9M408.6 780.92H413.9M408.6 763.28H413.9M408.6 745.64H413.9M408.6 728H413.9M466.84 904.4V909.7M519.78 904.4V909.7M572.72 904.4V909.7M625.66 904.4V909.7M678.6 904.4V909.7" fill="none" stroke="#000" stroke-width="1.7"/>
<text transform="translate(406.3 909.1) scale(1 1.03)" font-size="13" text-anchor="end" class="b">0.0</text>
<text transform="translate(406.3 891.46) scale(1 1.03)" font-size="13" text-anchor="end" class="b">0.1</text>
<text transform="translate(406.3 873.82) scale(1 1.03)" font-size="13" text-anchor="end" class="b">0.2</text>
<text transform="translate(406.3 856.18) scale(1 1.03)" font-size="13" text-anchor="end" class="b">0.3</text>
<text transform="translate(406.3 838.54) scale(1 1.03)" font-size="13" text-anchor="end" class="b">0.4</text>
<text transform="translate(406.3 820.9) scale(1 1.03)" font-size="13" text-anchor="end" class="b">0.5</text>
<text transform="translate(406.3 803.26) scale(1 1.03)" font-size="13" text-anchor="end" class="b">0.6</text>
<text transform="translate(406.3 785.62) scale(1 1.03)" font-size="13" text-anchor="end" class="b">0.7</text>
<text transform="translate(406.3 767.98) scale(1 1.03)" font-size="13" text-anchor="end" class="b">0.8</text>
<text transform="translate(406.3 750.34) scale(1 1.03)" font-size="13" text-anchor="end" class="b">0.9</text>
<text transform="translate(406.3 732.7) scale(1 1.03)" font-size="13" text-anchor="end" class="b">1.0</text>
<text transform="translate(413.9 924.5) scale(1 1.03)" font-size="13" text-anchor="middle" class="b">50</text>
<text transform="translate(466.84 924.5) scale(1 1.03)" font-size="13" text-anchor="middle" class="b">40</text>
<text transform="translate(519.78 924.5) scale(1 1.03)" font-size="13" text-anchor="middle" class="b">30</text>
<text transform="translate(572.72 924.5) scale(1 1.03)" font-size="13" text-anchor="middle" class="b">20</text>
<text transform="translate(625.66 924.5) scale(1 1.03)" font-size="13" text-anchor="middle" class="b">10</text>
<text transform="translate(678.6 924.5) scale(1 1.03)" font-size="13" text-anchor="middle" class="b">0</text>
<text style="stroke-width:0.08px" transform="translate(545.85 947) scale(1 1)" font-size="14.65" text-anchor="middle">Change in WPAI Domain</text>
<polyline points="413.9,872.6 440.37,868.7 466.84,846.9 493.31,846.9 519.78,824.2 546.25,824.2 572.72,792.5 599.19,792.5 625.66,766.35 652.13,766.35 668.01,766.35 678.6,747.5" fill="none" stroke="#000" stroke-width="1.9" stroke-linejoin="round"/>
<circle cx="413.9" cy="872.6" r="3.7"/><circle cx="440.37" cy="868.7" r="3.7"/><circle cx="466.84" cy="846.9" r="3.7"/><circle cx="493.31" cy="846.9" r="3.7"/><circle cx="519.78" cy="824.2" r="3.7"/><circle cx="546.25" cy="824.2" r="3.7"/><circle cx="572.72" cy="792.5" r="3.7"/><circle cx="599.19" cy="792.5" r="3.7"/><circle cx="625.66" cy="766.35" r="3.7"/><circle cx="652.13" cy="766.35" r="3.7"/><circle cx="668.01" cy="766.35" r="3.7"/><circle cx="678.6" cy="747.5" r="3.7"/>
<polyline points="413.9,741.8 440.37,743.5 466.84,751.6 493.31,751.6 519.78,767 546.25,772.5 572.72,784.3 599.19,786.4 625.66,813.4 652.13,813.4 668.01,813.4 678.6,840.5" fill="none" stroke="#000" stroke-width="1.9" stroke-linejoin="round"/>
<rect x="410.4" y="738.3" width="7" height="7"/><rect x="436.87" y="740" width="7" height="7"/><rect x="463.34" y="748.1" width="7" height="7"/><rect x="489.81" y="748.1" width="7" height="7"/><rect x="516.28" y="763.5" width="7" height="7"/><rect x="542.75" y="769" width="7" height="7"/><rect x="569.22" y="780.8" width="7" height="7"/><rect x="595.69" y="782.9" width="7" height="7"/><rect x="622.16" y="809.9" width="7" height="7"/><rect x="648.63" y="809.9" width="7" height="7"/><rect x="664.51" y="809.9" width="7" height="7"/><rect x="675.1" y="837" width="7" height="7"/>
<polyline points="413.9,801.3 440.37,802.7 466.84,799.25 493.31,799.25 519.78,806.8 546.25,813.4 572.72,808.9 599.19,810.3 625.66,817.6 652.13,817.6 668.01,817.6 678.6,823.8" fill="none" stroke="#000" stroke-width="1.9" stroke-linejoin="round"/>
<path d="M413.9 797.4L417.7 804.9L410.1 804.9Z"/><path d="M440.37 798.8L444.17 806.3L436.57 806.3Z"/><path d="M466.84 795.35L470.64 802.85L463.04 802.85Z"/><path d="M493.31 795.35L497.11 802.85L489.51 802.85Z"/><path d="M519.78 802.9L523.58 810.4L515.98 810.4Z"/><path d="M546.25 809.5L550.05 817L542.45 817Z"/><path d="M572.72 805L576.52 812.5L568.92 812.5Z"/><path d="M599.19 806.4L602.99 813.9L595.39 813.9Z"/><path d="M625.66 813.7L629.46 821.2L621.86 821.2Z"/><path d="M652.13 813.7L655.93 821.2L648.33 821.2Z"/><path d="M668.01 813.7L671.81 821.2L664.21 821.2Z"/><path d="M678.6 819.9L682.4 827.4L674.8 827.4Z"/>
<polyline points="413.9,789 440.37,789 466.84,783.9 493.31,783.9 519.78,780.7 546.25,782.3 572.72,771.05 599.19,771.7 625.66,763.5 652.13,763.5 668.01,763.5 678.6,754.7" fill="none" stroke="#000" stroke-width="1.9" stroke-linejoin="round"/>
<path d="M413.9 793L417.7 785.7L410.1 785.7Z"/><path d="M440.37 793L444.17 785.7L436.57 785.7Z"/><path d="M466.84 787.9L470.64 780.6L463.04 780.6Z"/><path d="M493.31 787.9L497.11 780.6L489.51 780.6Z"/><path d="M519.78 784.7L523.58 777.4L515.98 777.4Z"/><path d="M546.25 786.3L550.05 779L542.45 779Z"/><path d="M572.72 775.05L576.52 767.75L568.92 767.75Z"/><path d="M599.19 775.7L602.99 768.4L595.39 768.4Z"/><path d="M625.66 767.5L629.46 760.2L621.86 760.2Z"/><path d="M652.13 767.5L655.93 760.2L648.33 760.2Z"/><path d="M668.01 767.5L671.81 760.2L664.21 760.2Z"/><path d="M678.6 758.7L682.4 751.4L674.8 751.4Z"/>
<polyline points="413.9,876.7 440.37,876.3 466.84,863.4 493.31,863.4 519.78,861.2 546.25,867.9 572.72,850.1 599.19,851.8 625.66,852.4 652.13,852.4 668.01,852.4 678.6,855.7" fill="none" stroke="#000" stroke-width="1.9" stroke-linejoin="round"/>
<circle cx="413.9" cy="876.7" r="3.4" fill="none" stroke="#000" stroke-width="1.8"/><circle cx="440.37" cy="876.3" r="3.4" fill="none" stroke="#000" stroke-width="1.8"/><circle cx="466.84" cy="863.4" r="3.4" fill="none" stroke="#000" stroke-width="1.8"/><circle cx="493.31" cy="863.4" r="3.4" fill="none" stroke="#000" stroke-width="1.8"/><circle cx="519.78" cy="861.2" r="3.4" fill="none" stroke="#000" stroke-width="1.8"/><circle cx="546.25" cy="867.9" r="3.4" fill="none" stroke="#000" stroke-width="1.8"/><circle cx="572.72" cy="850.1" r="3.4" fill="none" stroke="#000" stroke-width="1.8"/><circle cx="599.19" cy="851.8" r="3.4" fill="none" stroke="#000" stroke-width="1.8"/><circle cx="625.66" cy="852.4" r="3.4" fill="none" stroke="#000" stroke-width="1.8"/><circle cx="652.13" cy="852.4" r="3.4" fill="none" stroke="#000" stroke-width="1.8"/><circle cx="668.01" cy="852.4" r="3.4" fill="none" stroke="#000" stroke-width="1.8"/><circle cx="678.6" cy="855.7" r="3.4" fill="none" stroke="#000" stroke-width="1.8"/>
</g>
</g></svg></body></html>
